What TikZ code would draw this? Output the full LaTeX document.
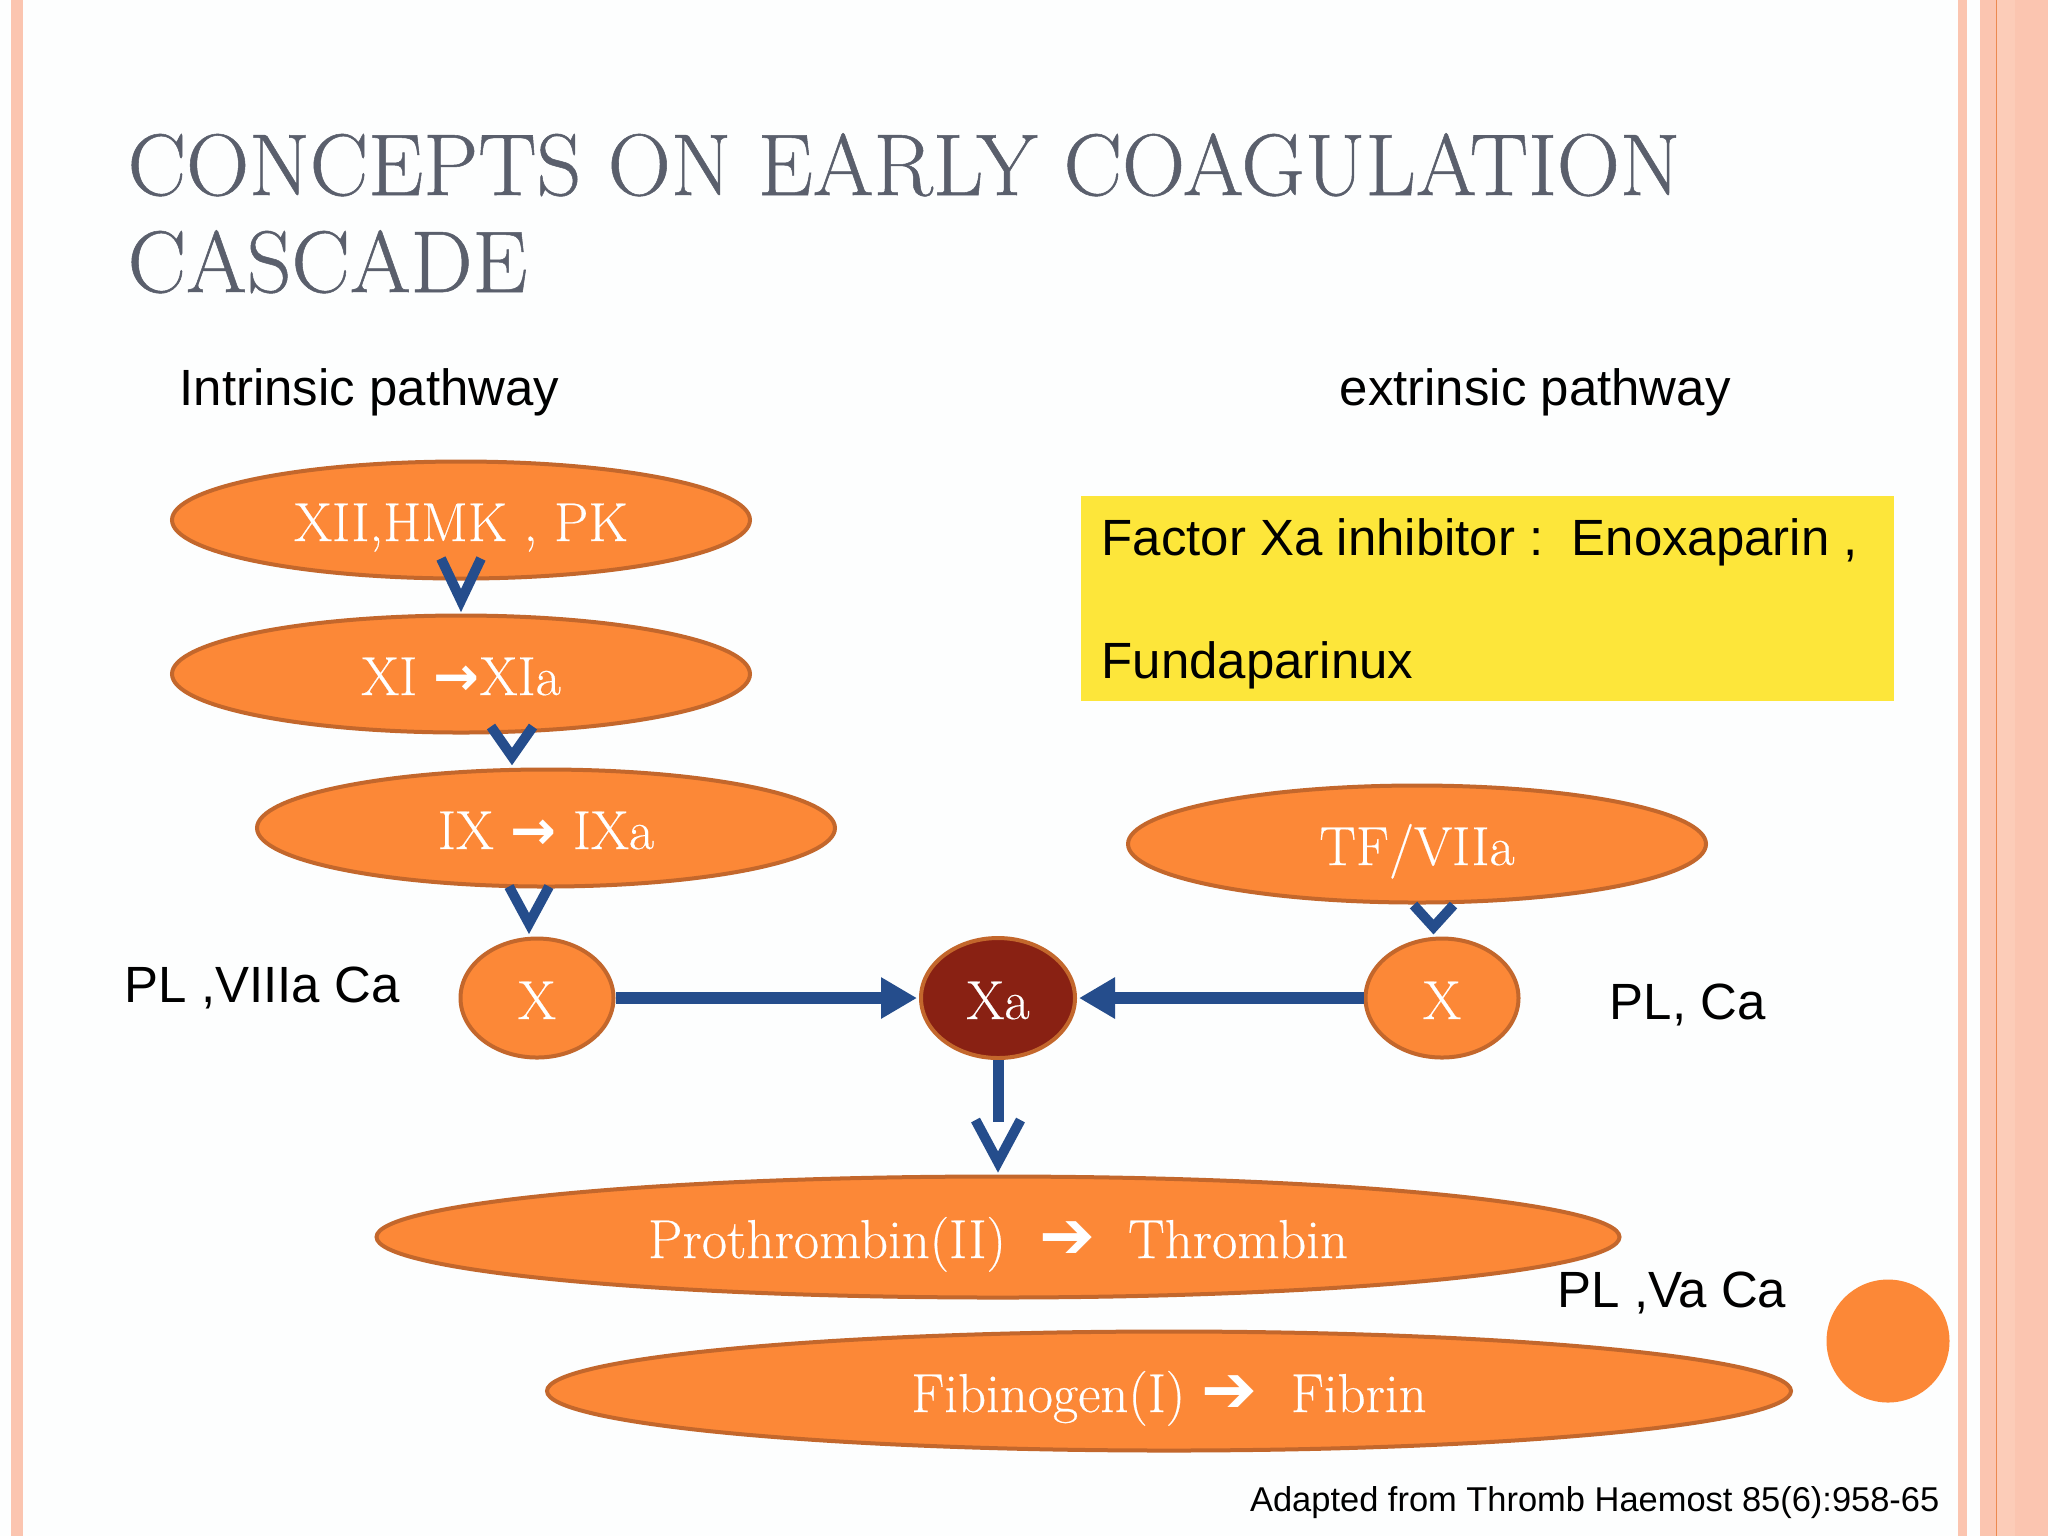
\documentclass[tikz,border=0pt]{standalone}
\usepackage{fontspec}
\newfontfamily\sansf{Liberation Sans}
\newfontfamily\dejavu{DejaVu Sans}
\newfontfamily\heavyserif[FakeBold=0.6]{Latin Modern Roman}
\newfontfamily\semiserif[FakeBold=0.35]{Latin Modern Roman}
\usetikzlibrary{shapes.geometric,arrows.meta,calc}
\definecolor{bgc}{RGB}{253,254,254}
\definecolor{stripe}{RGB}{251,197,176}
\definecolor{stripelight}{RGB}{252,204,184}
\definecolor{stripeline}{RGB}{236,138,80}
\definecolor{ofill}{RGB}{252,136,55}
\definecolor{oborder}{RGB}{195,103,44}
\definecolor{xafill}{RGB}{137,33,19}
\definecolor{arrowblue}{RGB}{37,77,140}
\definecolor{titlegray}{RGB}{90,95,108}
\definecolor{boxyellow}{RGB}{253,230,58}
\tikzset{
  oval/.style={ellipse, draw=oborder, fill=ofill, line width=0.4mm, inner sep=0pt,
    text=white, font=\semiserif\fontsize{15.6pt}{18pt}\selectfont, text height=4.2mm, text depth=0mm},
  bigoval/.style={oval, minimum width=57.8mm, minimum height=11.7mm},
  smalloval/.style={oval, minimum width=15.3mm, minimum height=11.9mm},
  lbl/.style={inner sep=0pt, anchor=base west, font=\sansf\fontsize{14.5pt}{17pt}\selectfont},
  titletext/.style={inner sep=0pt, anchor=base west, text=titlegray, font=\heavyserif\fontsize{24.9pt}{29pt}\selectfont},
  chev/.style={draw=arrowblue, line width=1mm, line join=miter},
  shaft/.style={draw=arrowblue, line width=1.1mm},
  harrow/.style={draw=arrowblue, line width=1.2mm, -{Triangle[length=3.6mm,width=3.9mm]}, shorten >=0.2mm},
}
\newcommand{\thinarr}{{\dejavu\bfseries →}}
\newcommand{\boldarr}{{\dejavu\bfseries\fontsize{19pt}{18pt}\selectfont ➔}}
\begin{document}
\begin{tikzpicture}[x=0.1mm,y=-0.1mm]
\useasboundingbox (0,0) rectangle (2048,1536);
% background and border stripes
\fill[bgc] (0,0) rectangle (2048,1536);
\fill[stripe] (11,0) rectangle (23,1536);
\fill[stripe] (1958,0) rectangle (1967,1536);
\fill[stripe] (1980,0) rectangle (2048,1536);
\fill[stripelight] (1997,0) rectangle (2015,1536);
\draw[stripeline, line width=0.15mm] (1996.5,0) -- (1996.5,1536);

% title
\node[titletext] (title1) at (127,195) {CONCEPTS ON EARLY COAGULATION};
\node[titletext] (title2) at (127,292) {CASCADE};

% pathway headers
\node[lbl] (intr) at (179,405) {Intrinsic pathway};
\node[lbl] (extr) at (1339,405) {extrinsic pathway};

% yellow box
\node[fill=boxyellow, inner sep=0pt, anchor=north west, minimum width=81.3mm, minimum height=20.5mm] (box) at (1080,495) {};
\node[lbl] (boxt1) at (1101,555) {Factor Xa inhibitor :\ \ Enoxaparin ,};
\node[lbl] (boxt2) at (1101,678) {Fundaparinux};

% ovals
\node[bigoval] (e1) at (461,520) {XII,HMK , PK};
\node[bigoval] (e2) at (461,674) {XI \thinarr XIa};
\node[bigoval] (e3) at (546,828) {IX \thinarr\ IXa};
\node[bigoval] (tf) at (1417,844) {TF/VIIa};
\node[smalloval] (xl) at (537,998) {X};
\node[smalloval, fill=xafill, minimum width=15.4mm, minimum height=12mm] (xa) at (998,998) {Xa};
\node[smalloval] (xr) at (1442,998) {X};
\node[oval, minimum width=124.3mm, minimum height=12.1mm] (pro) at (998,1237) {Prothrombin(II)\ \ \boldarr\ \ Thrombin};
\node[oval, minimum width=124.4mm, minimum height=11.9mm] (fib) at (1169,1391) {Fibinogen(I) \boldarr\ \ Fibrin};
\node[circle, fill=ofill, inner sep=0pt, minimum size=12.3mm] (dot) at (1888,1341) {};

% side labels
\node[lbl] (plviii) at (124,1002) {PL ,VIIIa Ca};
\node[lbl] (plca) at (1609,1019) {PL, Ca};
\node[lbl] (plva) at (1557,1307) {PL ,Va Ca};
\node[inner sep=0pt, anchor=base east, font=\sansf\fontsize{9.8pt}{12pt}\selectfont] (src) at (1940,1511) {Adapted from Thromb Haemost 85(6):958-65};

% connectors
\draw[chev] ($(e2.north)+(-20,-55)$) -- ($(e2.north)+(0,-13)$) -- ($(e2.north)+(20,-55)$);
\draw[chev] ($(e3.north)+(-55,-41)$) -- ($(e3.north)+(-34,-11)$) -- ($(e3.north)+(-13,-41)$);
\draw[chev] ($(xl.north)+(-28,-50)$) -- ($(xl.north)+(-8,-13)$) -- ($(xl.north)+(12,-50)$);
\draw[chev] ($(xr.north)+(-28.5,-31.5)$) -- ($(xr.north)+(-8.5,-9.5)$) -- ($(xr.north)+(11.5,-31.5)$);
\draw[harrow] (xl.east) -- (xa.west);
\draw[harrow] (xr.west) -- (xa.east);
\draw[shaft] (xa.south) -- ($(pro.north)+(0,-53)$);
\draw[chev] ($(pro.north)+(-22.5,-54.5)$) -- ($(pro.north)+(0,-12.5)$) -- ($(pro.north)+(22.5,-54.5)$);
\end{tikzpicture}
\end{document}
